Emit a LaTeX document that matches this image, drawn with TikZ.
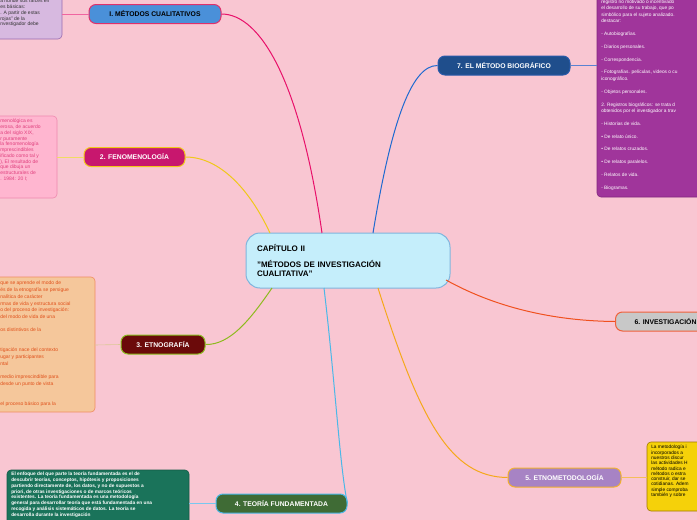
\documentclass[tikz,border=0pt]{standalone}
\usepackage{fontspec}
\setmainfont{Liberation Sans}
\begin{document}
\begin{tikzpicture}[x=1pt,y=-1pt,
 br/.style={rounded corners=7pt,line width=1pt,minimum height=19pt,inner xsep=6pt,font=\bfseries\fontsize{6.8}{7}\selectfont},
 tb/.style={rounded corners=4pt,line width=0.6pt,anchor=north west,align=left,inner sep=0pt,font=\fontsize{5}{5.75}\selectfont},
 con/.style={line width=1pt},
 thin/.style={line width=0.6pt}]
\definecolor{bgc}{HTML}{F9C6D2}
\fill[bgc] (0,0) rectangle (697,520);
\useasboundingbox (0,0) rectangle (697,520);
\clip (0,0) rectangle (697,520);
% text boxes
\draw[tb,fill={rgb,255:red,215;green,185;blue,224},draw={rgb,255:red,154;green,107;blue,176}] (-20,-20) rectangle (62,39);
\node[tb,text=black!80] (t1) at (0,-1) {a hunde sus raíces en\\es básicas:\\. A partir de estas\\rojas" de la\\nvestigador debe};
\draw[tb,fill={rgb,255:red,255;green,182;blue,208},draw={rgb,255:red,240;green,138;blue,176}] (-20,116) rectangle (57,198);
\node[tb,text={rgb,255:red,224;green,64;blue,126}] (t2) at (0,119) {menológica es\\erosa, de acuerdo\\a del siglo XIX,\\r puramente\\ la fenomenología\\mprescindibles\\ificado como tal y\\), El resultado de\\ que dibuja un\\estructurales de\\. 1984: 20 I;};
\draw[tb,fill={rgb,255:red,245;green,199;blue,155},draw={rgb,255:red,240;green,140;blue,96}] (-20,277) rectangle (95,412);
\node[tb,text={rgb,255:red,224;green,80;blue,26},font=\fontsize{5}{6.7}\selectfont] (t3) at (0,281) {que se aprende el modo de\\és de la etnografía se persigue\\nalítica de carácter\\rmas de vida y estructura social\\o del proceso de investigación:\\ del modo de vida de una\\ \\os distintivos de la\\ \\ \\tigación nace del contexto\\ugar y participantes\\ntal\\ \\ medio imprescindible para\\ desde un punto de vista\\ \\ \\el proceso básico para la};
\draw[tb,fill={rgb,255:red,26;green,115;blue,90},draw={rgb,255:red,20;green,90;blue,70}] (7,470) rectangle (189,540);
\node[tb,text=white,font=\bfseries\fontsize{4.8}{5.75}\selectfont] (t4) at (11,472) {El enfoque del que parte la teoría fundamentada es el de\\descubrir teorías, conceptos, hipótesis y proposiciones\\partiendo directamente de, los datos, y no de supuestos a\\priori, de otras investigaciones o de marcos teóricos\\existentes. La teoría fundamentada es una metodología\\general para desarrollar teoría que está fundamentada en una\\recogida y análisis sistemáticos de datos. La teoría se\\desarrolla durante la investigación};
\draw[tb,fill={rgb,255:red,245;green,209;blue,10},draw={rgb,255:red,160;green,120;blue,0}] (647,442) rectangle (720,511);
\node[tb,text=black,font=\fontsize{4.8}{5.3}\selectfont] (t5) at (651,445) {La metodología i\\incorporados a\\ nuestros discur\\las actividades H\\método radica e\\métodos o estra\\construir, dar se\\cotidianas. Adem\\simple comproba\\también y sobre};
\draw[tb,fill={rgb,255:red,160;green,53;blue,155},draw={rgb,255:red,130;green,40;blue,125}] (597,-20) rectangle (720,197);
\node[tb,text=white,font=\fontsize{4.8}{6.5}\selectfont] (t7) at (601,-0.5) {registro no motivado o incentivado\\el desarrollo de su trabajo, que po\\simbólico para el sujeto analizado.\\destacar:\\[6.3pt]- Autobiografías.\\[6.3pt]- Diarios personales.\\[6.3pt]- Correspondencia.\\[6.3pt]- Fotografías. películas, videos o cu\\iconográfico.\\[6.3pt]- Objetos personales.\\[6.3pt]2. Registros biográficos: se trata d\\obtenidos por el investigador a trav\\[6.3pt]- Historias de vida.\\[6.3pt]• De relato único.\\[6.3pt]• De relatos cruzados.\\[6.3pt]• De relatos paralelos.\\[6.3pt]- Relatos de vida.\\[6.3pt]- Biogramas.};
% central
\node[rounded corners=14pt,draw={rgb,255:red,127;green,181;blue,221},line width=1pt,fill={rgb,255:red,197;green,238;blue,251},minimum width=204pt,minimum height=55pt,align=left,font=\bfseries\fontsize{8}{9.5}\selectfont,text width=182pt] (c) at (348,260.5) {CAPÍTULO II\\[6pt]"MÉTODOS DE INVESTIGACIÓN\\CUALITATIVA"};
% branches
\node[br,fill={rgb,255:red,74;green,144;blue,217},draw={rgb,255:red,224;green,48;blue,107},minimum width=132pt] (b1) at (155,14) {I. MÉTODOS CUALITATIVOS};
\node[br,fill={rgb,255:red,200;green,23;blue,110},draw={rgb,255:red,240;green,200;blue,26},text=white,minimum width=101pt] (b2) at (134.5,157) {2. FENOMENOLOGÍA};
\node[br,fill={rgb,255:red,107;green,10;blue,10},draw={rgb,255:red,139;green,191;blue,32},text=white,minimum width=84pt] (b3) at (163,344.5) {3. ETNOGRAFÍA};
\node[br,fill={rgb,255:red,63;green,107;blue,53},draw={rgb,255:red,74;green,184;blue,232},text=white,minimum width=131pt] (b4) at (281.5,503.5) {4. TEORÍA FUNDAMENTADA};
\node[br,fill={rgb,255:red,167;green,131;blue,196},draw={rgb,255:red,240;green,176;blue,48},text=white,minimum width=113pt] (b5) at (564.5,477.5) {5. ETNOMETODOLOGÍA};
\node[br,fill={rgb,255:red,200;green,200;blue,200},draw={rgb,255:red,240;green,96;blue,58},anchor=west,minimum width=100pt,align=left] (b6) at (615,321.5) {6. INVESTIGACIÓN};
\node[br,fill={rgb,255:red,31;green,78;blue,140},draw={rgb,255:red,40;green,90;blue,170},text=white,minimum width=132pt] (b7) at (504,65.5) {7. EL MÉTODO BIOGRÁFICO};
% connectors
\draw[con,draw={rgb,255:red,232;green,16;blue,106}] (322,233) .. controls (300,80) and (260,14) .. (b1.east);
\draw[con,draw={rgb,255:red,240;green,200;blue,26}] (270,233) .. controls (250,190) and (220,157) .. (b2.east);
\draw[con,draw={rgb,255:red,141;green,186;blue,30}] (272,288) .. controls (250,320) and (230,345) .. (b3.east);
\draw[con,draw={rgb,255:red,74;green,184;blue,232}] (324,288) .. controls (335,380) and (340,470) .. (b4.east);
\draw[con,draw={rgb,255:red,245;green,168;blue,26}] (378,288) .. controls (420,420) and (450,477) .. (b5.west);
\draw[con,draw={rgb,255:red,240;green,80;blue,30}] (446,280) .. controls (500,310) and (560,321) .. (b6.west);
\draw[con,draw={rgb,255:red,30;green,106;blue,208}] (373,233) .. controls (390,130) and (410,65) .. (b7.west);
% sub connectors
\draw[thin,draw={rgb,255:red,240;green,100;blue,160}] (b1.west) -- (62,14);
\draw[thin,draw={rgb,255:red,240;green,220;blue,100}] (b2.west) -- (57,157);
\draw[thin,draw={rgb,255:red,220;green,200;blue,150}] (b3.west) -- (95,345);
\draw[thin,draw={rgb,255:red,120;green,200;blue,240}] (b4.west) -- (189,503.5);
\draw[thin,draw={rgb,255:red,245;green,190;blue,90}] (b5.east) -- (647,477.5);
\draw[thin,draw={rgb,255:red,90;green,130;blue,210}] (b7.east) -- (597,65.5);
\end{tikzpicture}
\end{document}
